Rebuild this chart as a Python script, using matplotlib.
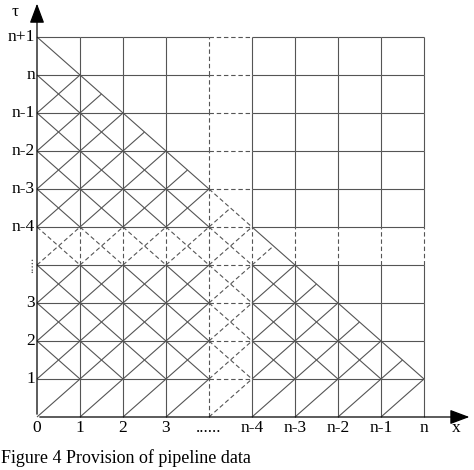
import matplotlib
matplotlib.use("Agg")
import matplotlib.pyplot as plt
import math

nx = 9   # columns index 0..9
ny = 10  # rows index 0..10
x_labels = ["0", "1", "2", "3", "......", "n-4", "n-3", "n-2", "n-1", "n"]
y_labels = ["", "1", "2", "3", ".....", "n-4", "n-3", "n-2", "n-1", "n", "n+1"]
band = (4, 5)

fig = plt.figure(figsize=(4.74, 4.70), dpi=100)
ax = fig.add_axes([0, 0, 1, 1])
ax.set_xlim(-37/43, (474-37)/43)
ax.set_ylim((417-470)/38, 417/38)
ax.axis("off")

col = "#555555"
lw = 0.8

def draw_line(p0, p1, row_band=True):
    (x0, y0), (x1, y1) = p0, p1
    ts = {0.0, 1.0}
    for a0, a1 in ((x0, x1), (y0, y1)):
        if a1 != a0:
            lo, hi = sorted((a0, a1))
            k = math.floor(lo) + 1
            while k < hi:
                ts.add((k - a0) / (a1 - a0))
                k += 1
    ts = sorted(ts)
    for ta, tb in zip(ts[:-1], ts[1:]):
        xa, ya = x0 + (x1-x0)*ta, y0 + (y1-y0)*ta
        xb, yb = x0 + (x1-x0)*tb, y0 + (y1-y0)*tb
        mx, my = (xa+xb)/2, (ya+yb)/2
        dashed = (band[0] <= mx < band[1]) or (row_band and band[0] < my < band[1])
        ax.plot([xa, xb], [ya, yb], color=col, lw=lw,
                ls=(0, (4, 2.5)) if dashed else "-", solid_capstyle="butt")

# grid
for j in range(1, ny+1):
    draw_line((0, j), (nx, j))
for i in range(1, nx+1):
    draw_line((i, 0), (i, ny))
# main diagonal
draw_line((0, ny), (nx, 1), row_band=False)
# x+y=k lines
for k in range(2, ny):
    draw_line((0, k), (k-1, 1))
# x-y=c lines
for c in range(-8, 9):
    draw_line((max(0, c), max(0, -c)), ((ny+c)/2, (ny-c)/2), row_band=(c < 8))

# axes with arrows
ax.annotate("", xy=(10.12, 0), xytext=(0, 0),
            arrowprops=dict(arrowstyle="-|>,head_length=1.2,head_width=0.45", color="black", lw=0.9))
ax.annotate("", xy=(0, 10.95), xytext=(0, 0),
            arrowprops=dict(arrowstyle="-|>,head_length=1.2,head_width=0.45", color="black", lw=0.9))

font = dict(family="Liberation Serif", fontsize=12.5)
for i, lab in enumerate(x_labels):
    ax.text(i, -0.3, lab, ha="center", va="center", **font)
for j, lab in enumerate(y_labels):
    if lab == ".....":
        ax.text(-0.15, j, lab, ha="center", va="center", rotation=90,
                family="Liberation Serif", fontsize=9, color="#444444")
    elif lab:
        ax.text(-0.05, j, lab, ha="right", va="center", **font)
ax.text(-0.5, 10.65, "τ", ha="center", va="center", **font)
ax.text(9.75, -0.3, "x", ha="center", va="center", **font)
ax.text(-0.84, -1.07, "Figure 4 Provision of pipeline data", ha="left", va="center",
        family="Liberation Serif", fontsize=13)

fig.savefig("out.png", dpi=100)
